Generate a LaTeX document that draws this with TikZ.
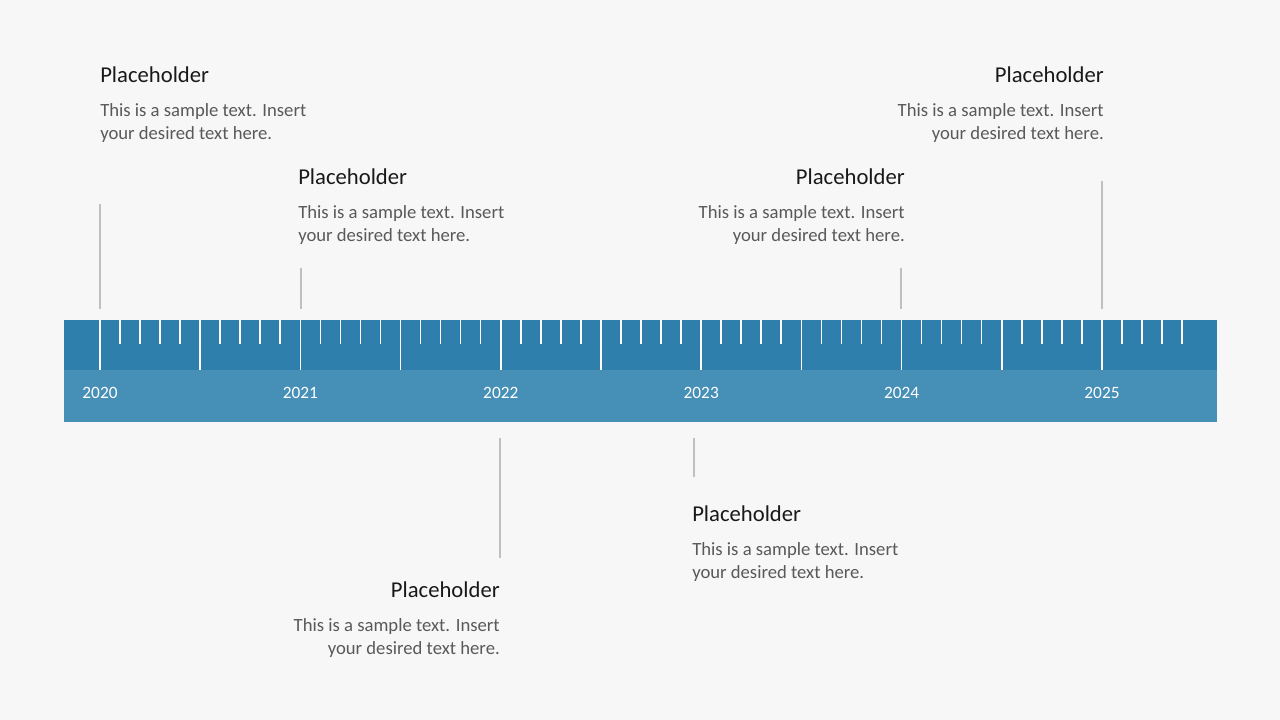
\documentclass[tikz,border=0pt]{standalone}
\usepackage{fontspec}
\setmainfont{Carlito}
\definecolor{bgcol}{HTML}{F7F7F7}
\definecolor{rulertop}{HTML}{2F7FAD}
\definecolor{rulerbot}{HTML}{468FB7}
\definecolor{bodycol}{HTML}{595959}
\definecolor{linecol}{HTML}{BFBFBF}
\tikzset{
	title/.style={font=\fontsize{17}{20}\selectfont, text=black!90, inner sep=0pt},
	body/.style={font=\fontsize{14}{17.3}\selectfont, text=bodycol, inner sep=0pt},
	year/.style={font=\fontsize{13}{15}\selectfont, text=white, inner sep=0pt},
	pin/.style={linecol, line width=0.8pt},
}
\begin{document}
\begin{tikzpicture}[x=0.75pt,y=-0.75pt]

	\fill[bgcol] (0,0) rectangle (1280,720);
	\fill[rulertop] (64,320) rectangle (1217,370);
	\fill[rulerbot] (64,370) rectangle (1217,422);

	% ticks
	\foreach \k in {0,...,10}{
		\draw[white, line width=1.3pt] ({100+100.2*\k},320) -- ({100+100.2*\k},370);
		\foreach \m in {1,2,3,4}
			\draw[white, line width=1.3pt] ({100+100.2*\k+20*\m},320) -- ({100+100.2*\k+20*\m},344);
	}

	% years
	\foreach \y [count=\i from 0] in {2020,2021,2022,2023,2024,2025}
		\node (y\i) at ({100+200.4*\i},393) [year]{\y};

	% text blocks
	\node (t1) at (100,66)	[title, anchor=north west]{Placeholder};
	\node (b1) at (100,103)	[body, anchor=north west, align=left]{This is a sample text. Insert\\your desired text here.};

	\node (t2) at (298,168)	[title, anchor=north west]{Placeholder};
	\node (b2) at (298,205)	[body, anchor=north west, align=left]{This is a sample text. Insert\\your desired text here.};

	\node (t3) at (905,168)	[title, anchor=north east]{Placeholder};
	\node (b3) at (905,205)	[body, anchor=north east, align=right]{This is a sample text. Insert\\your desired text here.};

	\node (t4) at (1104,66)	[title, anchor=north east]{Placeholder};
	\node (b4) at (1104,103)	[body, anchor=north east, align=right]{This is a sample text. Insert\\your desired text here.};

	\node (t5) at (500,581)	[title, anchor=north east]{Placeholder};
	\node (b5) at (500,618)	[body, anchor=north east, align=right]{This is a sample text. Insert\\your desired text here.};

	\node (t6) at (692,505)	[title, anchor=north west]{Placeholder};
	\node (b6) at (692,542)	[body, anchor=north west, align=left]{This is a sample text. Insert\\your desired text here.};

	% pins
	\coordinate (p1a) at (100,204);	\coordinate (p1b) at (100,309);
	\coordinate (p2a) at (301,268);	\coordinate (p2b) at (301,309);
	\coordinate (p3a) at (901,268);	\coordinate (p3b) at (901,309);
	\coordinate (p4a) at (1102,181);	\coordinate (p4b) at (1102,309);
	\coordinate (p5a) at (500,438);	\coordinate (p5b) at (500,558);
	\coordinate (p6a) at (694,438);	\coordinate (p6b) at (694,477);
	\foreach \p in {1,...,6}
		\draw[pin] (p\p a) -- (p\p b);

\end{tikzpicture}
\end{document}
